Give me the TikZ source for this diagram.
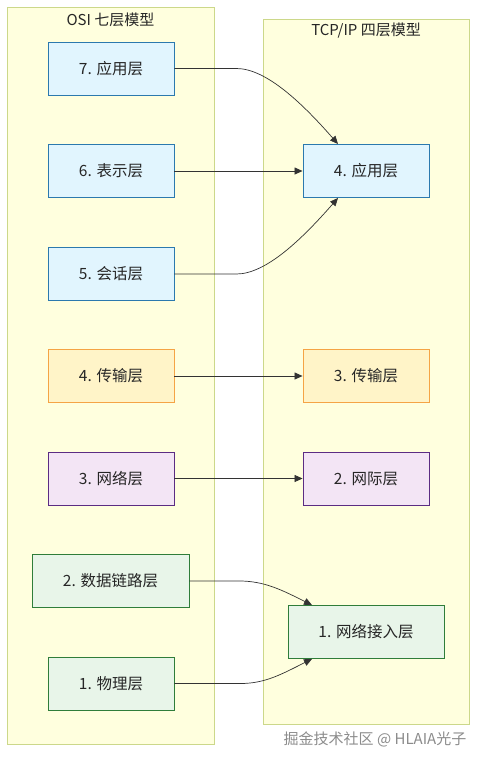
\documentclass[tikz,border=0pt]{standalone}
\usepackage{fontspec}
\setmainfont{Noto Sans CJK SC}
\usetikzlibrary{arrows.meta}

\definecolor{clfill}{HTML}{FFFFDE}
\definecolor{clline}{HTML}{CCD88A}
\definecolor{bluefill}{HTML}{E1F5FE}
\definecolor{blueline}{HTML}{2B79AE}
\definecolor{orgfill}{HTML}{FFF4C8}
\definecolor{orgline}{HTML}{F5A445}
\definecolor{purfill}{HTML}{F3E5F5}
\definecolor{purline}{HTML}{5B2C83}
\definecolor{grnfill}{HTML}{E8F5E9}
\definecolor{grnline}{HTML}{2F7D3A}

\tikzset{
  cluster/.style={fill=clfill, draw=clline, line width=1pt},
  layer/.style={draw, line width=0.9pt, minimum height=53pt, minimum width=126pt,
    font=\fontsize{15.5}{18}\selectfont, text=black!85, inner sep=0pt},
  bluebox/.style={layer, fill=bluefill, draw=blueline},
  orgbox/.style={layer, fill=orgfill, draw=orgline},
  purbox/.style={layer, fill=purfill, draw=purline},
  grnbox/.style={layer, fill=grnfill, draw=grnline},
  flow/.style={-{Triangle[length=8pt,width=7pt]}, draw=black!80, line width=0.7pt}
}

\begin{document}
\begin{tikzpicture}[x=1pt,y=-1pt]
  \useasboundingbox (0,0) rectangle (485,764);
  \fill[white] (0,0) rectangle (485,764);

  \draw[cluster] (7,7) rectangle (214,744);
  \draw[cluster] (263,19) rectangle (469,724);
  \node[text=black!85] (osi) at (110.5,20) {\fontsize{15}{18}\selectfont OSI 七层模型};
  \node[text=black!85] (tcp) at (366,31) {\fontsize{15}{18}\selectfont TCP/IP 四层模型};

  \node[bluebox] (l7) at (111,68.5) {7. 应用层};
  \node[bluebox] (l6) at (111,171) {6. 表示层};
  \node[bluebox] (l5) at (111,274) {5. 会话层};
  \node[orgbox] (l4) at (111,376) {4. 传输层};
  \node[purbox] (l3) at (111,478.5) {3. 网络层};
  \node[grnbox, minimum width=157pt] (l2) at (110.5,581) {2. 数据链路层};
  \node[grnbox] (l1) at (111,683.5) {1. 物理层};

  \node[bluebox] (r4) at (366,171) {4. 应用层};
  \node[orgbox] (r3) at (366,376) {3. 传输层};
  \node[purbox] (r2) at (366,478.5) {2. 网际层};
  \node[grnbox, minimum width=156pt] (r1) at (366,632) {1. 网络接入层};

  \draw[flow] (l7.east) -- ++(62,0) .. controls +(30,0) and +(-35,-40) .. ([xshift=-28pt]r4.north);
  \draw[flow] (l6) -- (r4);
  \draw[flow] (l5.east) -- ++(62,0) .. controls +(30,0) and +(-35,40) .. ([xshift=-28pt]r4.south);
  \draw[flow] (l4) -- (r3);
  \draw[flow] (l3) -- (r2);
  \draw[flow] (l2.east) -- ++(50,0) .. controls +(25,0) and +(-30,-15) .. ([xshift=-54pt]r1.north);
  \draw[flow] (l1.east) -- ++(66,0) .. controls +(25,0) and +(-30,15) .. ([xshift=-54pt]r1.south);

  \node[text=black!45, font=\fontsize{15}{17}\selectfont] (mark) at (375,739) {掘金技术社区 @ HLAIA光子};
\end{tikzpicture}
\end{document}
